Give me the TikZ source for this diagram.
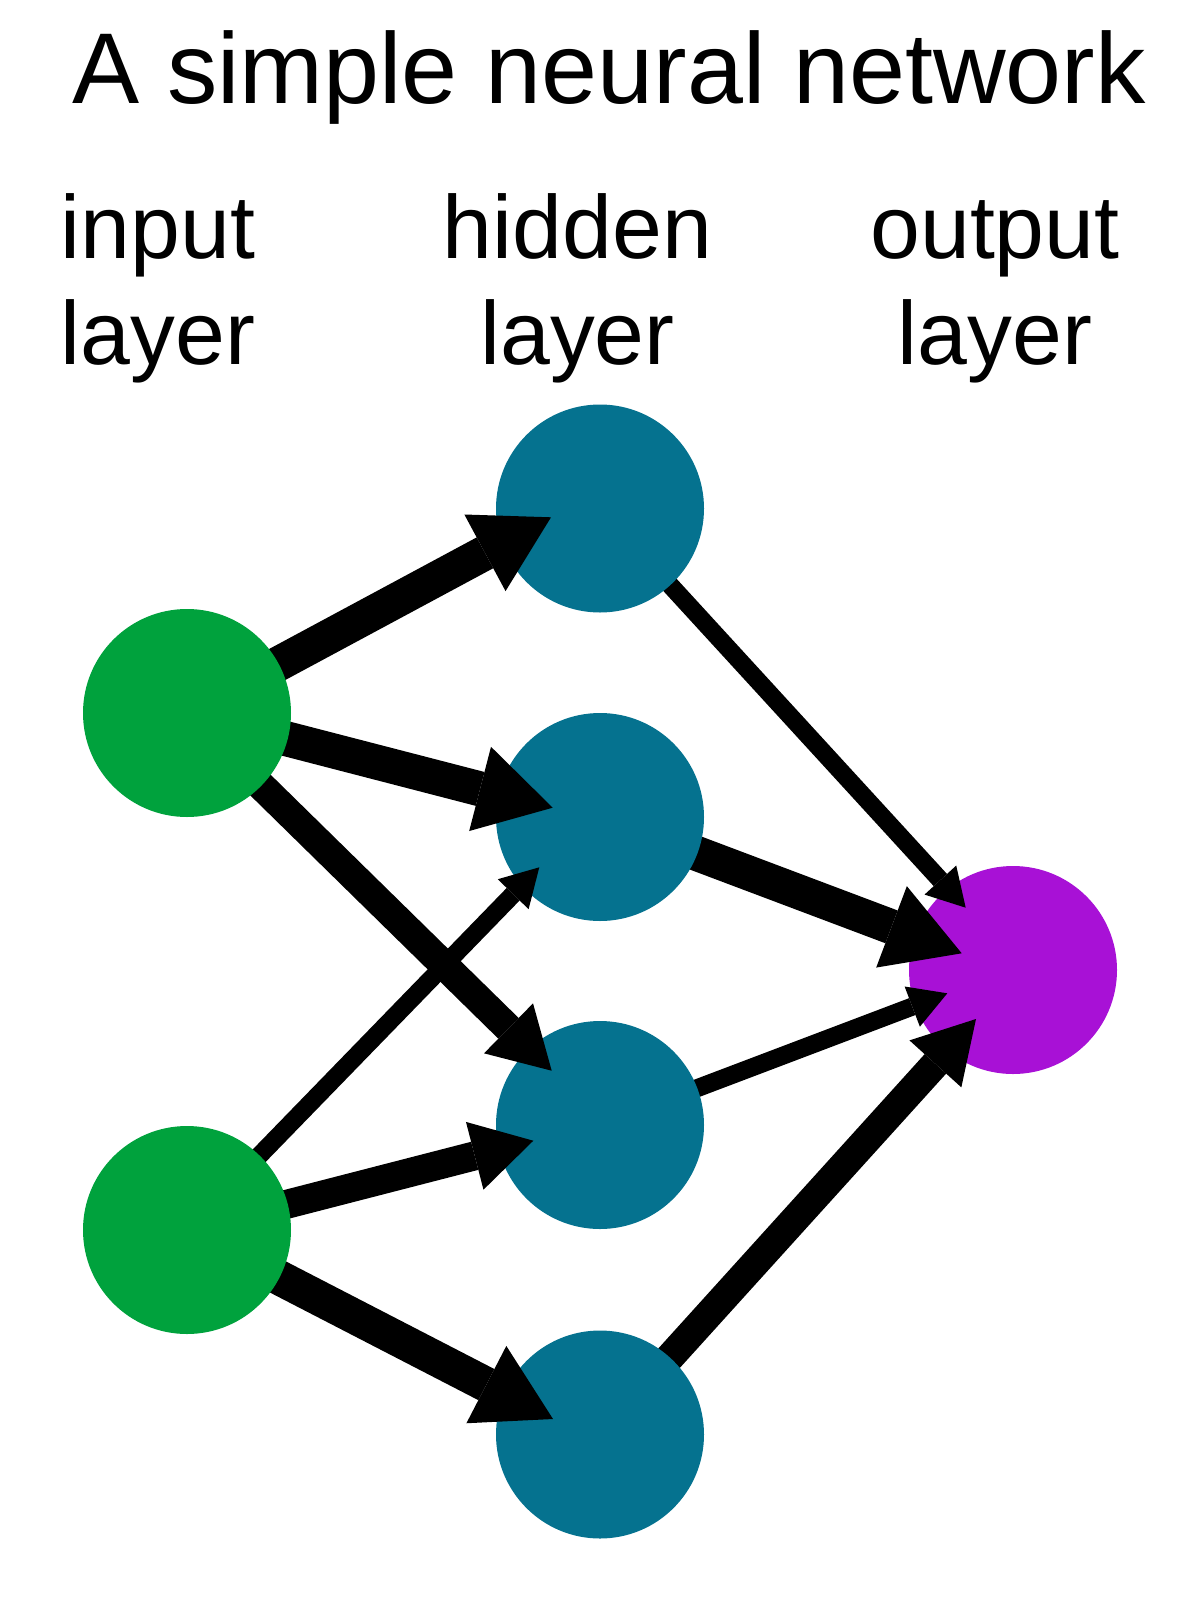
\documentclass[tikz,border=0pt]{standalone}
\usepackage{fontspec}
\setmainfont{Liberation Sans}
\usetikzlibrary{arrows.meta}
\pgfdeclarelayer{outlayer}
\pgfdeclarelayer{hoedges}
\pgfdeclarelayer{hidlayer}
\pgfdeclarelayer{ihedges}
\pgfsetlayers{outlayer,hoedges,hidlayer,ihedges,main}
\definecolor{ingreen}{RGB}{0,162,61}
\definecolor{hidteal}{RGB}{5,114,143}
\definecolor{outpurple}{RGB}{168,17,214}
\begin{document}
\begin{tikzpicture}[x=0.5pt,y=-0.5pt,
  neuron/.style={circle, minimum size=104pt, inner sep=0pt, draw=none},
  inneuron/.style={neuron, fill=ingreen},
  hidneuron/.style={neuron, fill=hidteal},
  outneuron/.style={neuron, fill=outpurple},
  thickw/.style={line width=17.5pt, -{Triangle[length=37.5pt,width=43.5pt,line width=0pt]}},
  midw/.style={line width=14.5pt, -{Triangle[length=30.25pt,width=35pt,line width=0pt]}},
  thinw/.style={line width=9pt, -{Triangle[length=18.75pt,width=21.5pt,line width=0pt]}},
  titletext/.style={anchor=base, inner sep=0pt, font=\fontsize{50.3pt}{60pt}\selectfont},
  layertext/.style={anchor=base, inner sep=0pt, align=center, font=\fontsize{44.8pt}{53.25pt}\selectfont}
]
\useasboundingbox (0,0) rectangle (1200,1600);

% title and labels
\node[titletext] (title) at (609,104) {A simple neural network};
\node[layertext] (linput) at (158,364.5) {input\\layer};
\node[layertext] (lhidden) at (577.5,364.5) {hidden\\layer};
\node[layertext] (loutput) at (995,364.5) {output\\layer};

% neurons
\begin{pgfonlayer}{outlayer}
\node[outneuron] (o) at (1013,970) {};
\end{pgfonlayer}
\begin{pgfonlayer}{hidlayer}
\node[hidneuron] (h1) at (600,508.5) {};
\node[hidneuron] (h2) at (600,817) {};
\node[hidneuron] (h3) at (600,1125) {};
\node[hidneuron] (h4) at (600,1434.5) {};
\end{pgfonlayer}
\node[inneuron] (i1) at (187,713) {};
\node[inneuron] (i2) at (187,1230) {};

% arrow tips
\coordinate (t1) at (551,517.3);
\coordinate (t2) at (552.7,807.7);
\coordinate (t3) at (551.7,1070.7);
\coordinate (t4) at (539.3,867.3);
\coordinate (t5) at (533.3,1140.7);
\coordinate (t6) at (553,1419);
\coordinate (t7) at (965.7,907.7);
\coordinate (t8) at (961.7,953.3);
\coordinate (t9) at (947.3,993.3);
\coordinate (t10) at (976,1019);

% hidden -> output
\begin{pgfonlayer}{hoedges}
\draw[thinw] (h1.center) -- (t7);
\draw[thickw] (h2.center) -- (t8);
\draw[thinw] (h3.center) -- (t9);
\draw[midw] (h4.center) -- (t10);
\end{pgfonlayer}

% input -> hidden
\begin{pgfonlayer}{ihedges}
\draw[thickw] (i1.center) -- (t1);
\draw[thickw] (i1.center) -- (t2);
\draw[midw] (i1.center) -- (t3);
\draw[thinw] (i2.center) -- (t4);
\draw[midw] (i2.center) -- (t5);
\draw[thickw] (i2.center) -- (t6);
\end{pgfonlayer}
\end{tikzpicture}
\end{document}
